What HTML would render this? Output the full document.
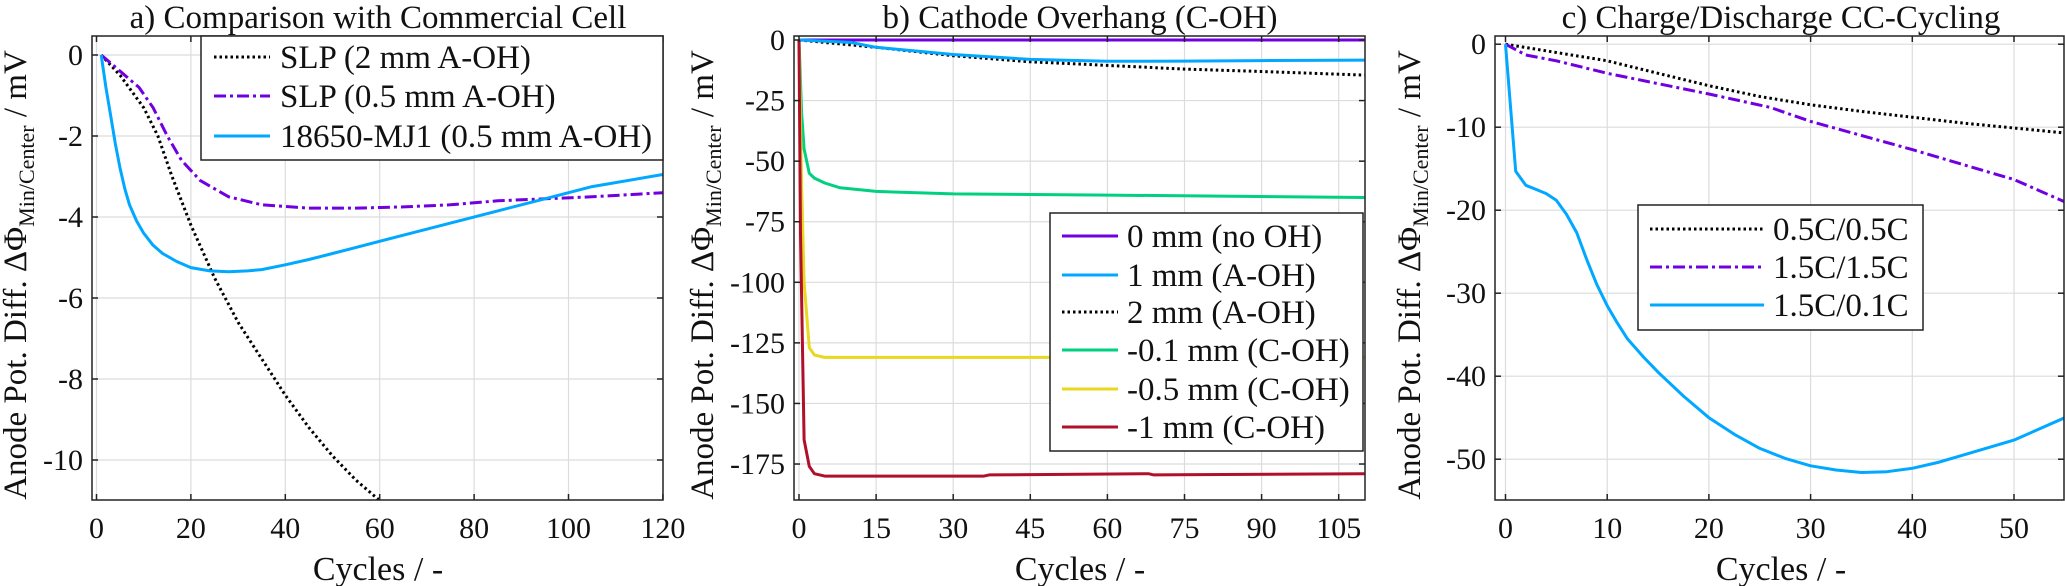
<!DOCTYPE html>
<html><head><meta charset="utf-8"><style>
html,body{margin:0;padding:0;background:#fff;}
svg{display:block;}
text{font-family:"Liberation Serif","DejaVu Serif",serif;fill:#111;}
</style></head><body>
<svg id="s" width="2065" height="586" viewBox="0 0 2065 586" xmlns="http://www.w3.org/2000/svg" font-family="Liberation Serif, serif">
<defs>
<clipPath id="clip0"><rect x="92" y="36" width="571" height="464"/></clipPath>
<clipPath id="clip1"><rect x="794" y="36" width="571" height="464"/></clipPath>
<clipPath id="clip2"><rect x="1495" y="36" width="569" height="464"/></clipPath>
</defs>
<g id="grid"></g>
<g id="series"></g>
<g id="axes"></g>
<g id="ticklabels" font-size="30" font-family="Liberation Serif, serif"></g>
<text x="378" y="28" font-size="33" text-anchor="middle">a) Comparison with Commercial Cell</text>
<text x="1080" y="28" font-size="33" text-anchor="middle">b) Cathode Overhang (C-OH)</text>
<text x="1781" y="28" font-size="33" text-anchor="middle">c) Charge/Discharge CC-Cycling</text>
<text x="378" y="580" font-size="34" text-anchor="middle">Cycles / -</text>
<text x="1080" y="580" font-size="34" text-anchor="middle">Cycles / -</text>
<text x="1781" y="580" font-size="34" text-anchor="middle">Cycles / -</text>
<text transform="translate(26,275) rotate(-90)" font-size="33" text-anchor="middle">Anode Pot. Diff. ΔΦ<tspan font-size="22" dy="8">Min/Center</tspan><tspan dy="-8"> / mV</tspan></text>
<text transform="translate(713,275) rotate(-90)" font-size="33" text-anchor="middle">Anode Pot. Diff. ΔΦ<tspan font-size="22" dy="8">Min/Center</tspan><tspan dy="-8"> / mV</tspan></text>
<text transform="translate(1420,275) rotate(-90)" font-size="33" text-anchor="middle">Anode Pot. Diff. ΔΦ<tspan font-size="22" dy="8">Min/Center</tspan><tspan dy="-8"> / mV</tspan></text>

<!-- legend a -->
<rect x="201" y="36" width="462" height="124" fill="#fff" stroke="#222" stroke-width="1.5"/>
<line x1="214" y1="57" x2="270" y2="57" stroke="#000" stroke-width="3" stroke-dasharray="2.5,3"/>
<line x1="214" y1="96" x2="270" y2="96" stroke="#7000e0" stroke-width="3" stroke-dasharray="12,4,3,4"/>
<line x1="214" y1="136" x2="270" y2="136" stroke="#00a8ff" stroke-width="3"/>
<g font-size="33">
<text x="280" y="68">SLP (2 mm A-OH)</text>
<text x="280" y="107">SLP (0.5 mm A-OH)</text>
<text x="280" y="147">18650-MJ1 (0.5 mm A-OH)</text>
</g>

<!-- legend b -->
<rect x="1050" y="213" width="313" height="238" fill="#fff" stroke="#222" stroke-width="1.5"/>
<line x1="1062" y1="236" x2="1118" y2="236" stroke="#7000e0" stroke-width="3"/>
<line x1="1062" y1="275" x2="1118" y2="275" stroke="#00a8ff" stroke-width="3"/>
<line x1="1062" y1="312" x2="1118" y2="312" stroke="#000" stroke-width="3" stroke-dasharray="2.5,3"/>
<line x1="1062" y1="350" x2="1118" y2="350" stroke="#00d080" stroke-width="3"/>
<line x1="1062" y1="389" x2="1118" y2="389" stroke="#e8d820" stroke-width="3"/>
<line x1="1062" y1="427" x2="1118" y2="427" stroke="#b0102a" stroke-width="3"/>
<g font-size="33">
<text x="1127" y="247">0 mm (no OH)</text>
<text x="1127" y="286">1 mm (A-OH)</text>
<text x="1127" y="323">2 mm (A-OH)</text>
<text x="1127" y="361">-0.1 mm (C-OH)</text>
<text x="1127" y="400">-0.5 mm (C-OH)</text>
<text x="1127" y="438">-1 mm (C-OH)</text>
</g>

<!-- legend c -->
<rect x="1638" y="205" width="285" height="125" fill="#fff" stroke="#222" stroke-width="1.5"/>
<line x1="1650" y1="229" x2="1764" y2="229" stroke="#000" stroke-width="3" stroke-dasharray="2.5,3"/>
<line x1="1650" y1="267" x2="1764" y2="267" stroke="#7000e0" stroke-width="3" stroke-dasharray="12,4,3,4"/>
<line x1="1650" y1="305" x2="1764" y2="305" stroke="#00a8ff" stroke-width="3"/>
<g font-size="33">
<text x="1773" y="240">0.5C/0.5C</text>
<text x="1773" y="278">1.5C/1.5C</text>
<text x="1773" y="316">1.5C/0.1C</text>
</g>
</svg>
<script>
(function(){
var NS="http://www.w3.org/2000/svg";
function el(p,t,a,txt){var e=document.createElementNS(NS,t);for(var k in a)e.setAttribute(k,a[k]);if(txt!==undefined)e.textContent=txt;document.getElementById(p).appendChild(e);return e;}
var panels=[
 {L:92,R:663,T:36,B:500,x0:96.5,sx:4.72,y0:55,sy:40.5,xt:[0,20,40,60,80,100,120],yt:[0,-2,-4,-6,-8,-10],
  series:[
   {c:"#000",d:"2.5,3",p:[[1,0],[5,-0.5],[10,-1.3],[13,-2],[16,-3],[20,-4.2],[25,-5.5],[30,-6.6],[35,-7.5],[40,-8.4],[45,-9.2],[50,-9.9],[55,-10.5],[60,-11]]},
   {c:"#7000e0",d:"12,4,3,4",p:[[1,0],[5,-0.4],[9,-0.8],[12,-1.3],[15,-2],[18,-2.6],[22,-3.1],[28,-3.5],[35,-3.7],[45,-3.78],[55,-3.78],[65,-3.75],[75,-3.7],[85,-3.6],[95,-3.55],[105,-3.5],[120,-3.4]]},
   {c:"#00a8ff",p:[[1,0],[2,-0.8],[3,-1.5],[4,-2.2],[5,-2.8],[6,-3.3],[7,-3.7],[8.5,-4.1],[10,-4.4],[12,-4.7],[14,-4.9],[17,-5.1],[20,-5.25],[24,-5.33],[28,-5.35],[32,-5.33],[35,-5.3],[40,-5.18],[45,-5.05],[50,-4.9],[55,-4.75],[65,-4.45],[75,-4.15],[85,-3.85],[95,-3.55],[105,-3.25],[120,-2.95]]}]},
 {L:794,R:1365,T:36,B:500,x0:799,sx:5.14,y0:40,sy:2.423,xt:[0,15,30,45,60,75,90,105],yt:[0,-25,-50,-75,-100,-125,-150,-175],
  series:[
   {c:"#7000e0",p:[[0,0],[110,0]]},
   {c:"#000",d:"2.5,3",p:[[0,0],[15,-3],[30,-6.5],[45,-9],[60,-10.5],[75,-12],[90,-13],[110,-14.5]]},
   {c:"#00a8ff",p:[[0,0],[10,-1],[15,-3],[30,-6],[45,-8],[60,-8.8],[75,-8.7],[90,-8.5],[110,-8.3]]},
   {c:"#00d080",p:[[0,0],[0.5,-30],[1,-45],[2,-55],[3,-57],[5,-59],[8,-61],[15,-62.5],[30,-63.5],[60,-64],[110,-65]]},
   {c:"#e8d820",p:[[0,0],[0.5,-60],[1,-100],[2,-127],[3,-130],[5,-131],[110,-131]]},
   {c:"#b0102a",p:[[0,0],[0.3,-80],[1,-165],[2,-176],[3,-179],[5,-180],[36,-180],[37,-179.5],[68,-179],[69,-179.5],[110,-179]]}]},
 {L:1495,R:2064,T:36,B:500,x0:1505.5,sx:10.17,y0:44.2,sy:8.3,xt:[0,10,20,30,40,50],yt:[0,-10,-20,-30,-40,-50],
  series:[
   {c:"#000",d:"2.5,3",p:[[0,0],[5,-1],[10,-2],[15,-3.5],[20,-5],[25,-6.3],[30,-7.3],[35,-8.1],[40,-8.8],[45,-9.5],[50,-10.1],[55,-10.7]]},
   {c:"#7000e0",d:"12,4,3,4",p:[[0,0],[2,-1.3],[5,-2],[10,-3.5],[20,-6],[26,-7.6],[30,-9.3],[35,-11],[40,-12.7],[45,-14.5],[50,-16.3],[55,-19]]},
   {c:"#00a8ff",p:[[0,0],[1,-15.3],[2,-17],[3,-17.5],[4,-18],[5,-18.8],[6,-20.5],[7,-22.7],[8,-26],[9,-29],[10,-31.5],[11,-33.6],[12,-35.5],[13.5,-37.6],[15,-39.5],[17.5,-42.4],[20,-45],[22.5,-47],[25,-48.7],[27.5,-49.9],[30,-50.8],[32.5,-51.3],[35,-51.6],[37.5,-51.5],[40,-51.1],[42.5,-50.4],[45,-49.5],[50,-47.7],[55,-45]]}]}
];
panels.forEach(function(P,i){
  P.xt.forEach(function(v){var x=P.x0+P.sx*v;
    el("grid","line",{x1:x,x2:x,y1:P.T,y2:P.B,stroke:"#dcdcdc","stroke-width":1.2});
    el("axes","line",{x1:x,x2:x,y1:P.B,y2:P.B-6,stroke:"#222","stroke-width":1.5});
    el("axes","line",{x1:x,x2:x,y1:P.T,y2:P.T+6,stroke:"#222","stroke-width":1.5});
    el("ticklabels","text",{x:x,y:P.B+38,"text-anchor":"middle"},String(v));});
  P.yt.forEach(function(v){var y=P.y0-P.sy*v;
    el("grid","line",{x1:P.L,x2:P.R,y1:y,y2:y,stroke:"#dcdcdc","stroke-width":1.2});
    el("axes","line",{x1:P.L,x2:P.L+6,y1:y,y2:y,stroke:"#222","stroke-width":1.5});
    el("axes","line",{x1:P.R,x2:P.R-6,y1:y,y2:y,stroke:"#222","stroke-width":1.5});
    el("ticklabels","text",{x:P.L-9,y:y+10,"text-anchor":"end"},String(v));});
  P.series.forEach(function(S){
    var pts=S.p.map(function(q){return (P.x0+P.sx*q[0]).toFixed(1)+","+(P.y0-P.sy*q[1]).toFixed(1);}).join(" ");
    var a={points:pts,fill:"none",stroke:S.c,"stroke-width":3,"stroke-linejoin":"round","clip-path":"url(#clip"+i+")"};
    if(S.d)a["stroke-dasharray"]=S.d;
    el("series","polyline",a);});
  el("axes","rect",{x:P.L,y:P.T,width:P.R-P.L,height:P.B-P.T,fill:"none",stroke:"#222","stroke-width":1.5});
});
})();
</script>
</body></html>
